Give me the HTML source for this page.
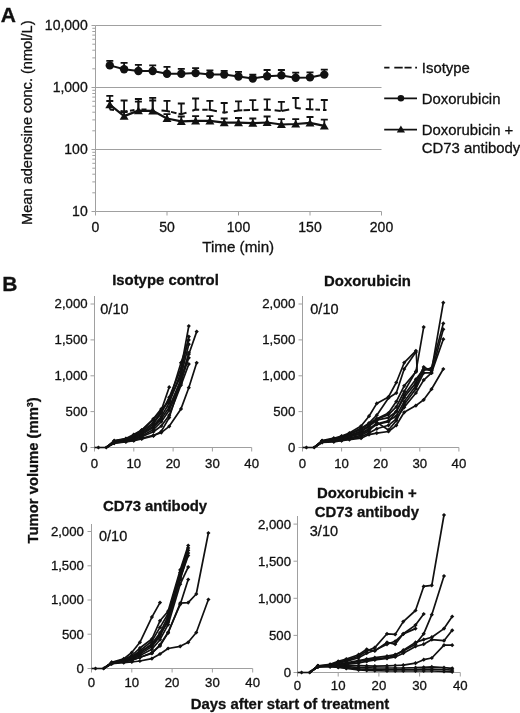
<!DOCTYPE html><html><head><meta charset="utf-8"><title>Figure</title><style>html,body{margin:0;padding:0;background:#fff}svg{display:block}text{font-family:"Liberation Sans", Arial, sans-serif;fill:#111;stroke:#111;stroke-width:0.3px}</style></head><body>
<svg width="520" height="713" viewBox="0 0 520 713">
<rect width="520" height="713" fill="#fff"/>
<text x="0.8" y="21.7" font-size="21" font-weight="bold">A</text>
<line x1="95.5" y1="25.5" x2="381.5" y2="25.5" stroke="#a0a0a0" stroke-width="1"/>
<line x1="95.5" y1="87.5" x2="381.5" y2="87.5" stroke="#a0a0a0" stroke-width="1"/>
<line x1="95.5" y1="149.5" x2="381.5" y2="149.5" stroke="#a0a0a0" stroke-width="1"/>
<line x1="95.5" y1="211.5" x2="381.5" y2="211.5" stroke="#a0a0a0" stroke-width="1"/>
<line x1="95.5" y1="25.5" x2="95.5" y2="211.5" stroke="#a0a0a0" stroke-width="1"/>
<line x1="92.3" y1="68.8" x2="95.5" y2="68.8" stroke="#a0a0a0" stroke-width="1"/>
<line x1="92.3" y1="57.9" x2="95.5" y2="57.9" stroke="#a0a0a0" stroke-width="1"/>
<line x1="92.3" y1="50.2" x2="95.5" y2="50.2" stroke="#a0a0a0" stroke-width="1"/>
<line x1="92.3" y1="44.2" x2="95.5" y2="44.2" stroke="#a0a0a0" stroke-width="1"/>
<line x1="92.3" y1="39.3" x2="95.5" y2="39.3" stroke="#a0a0a0" stroke-width="1"/>
<line x1="92.3" y1="35.1" x2="95.5" y2="35.1" stroke="#a0a0a0" stroke-width="1"/>
<line x1="92.3" y1="31.5" x2="95.5" y2="31.5" stroke="#a0a0a0" stroke-width="1"/>
<line x1="92.3" y1="28.3" x2="95.5" y2="28.3" stroke="#a0a0a0" stroke-width="1"/>
<line x1="92.3" y1="130.8" x2="95.5" y2="130.8" stroke="#a0a0a0" stroke-width="1"/>
<line x1="92.3" y1="119.9" x2="95.5" y2="119.9" stroke="#a0a0a0" stroke-width="1"/>
<line x1="92.3" y1="112.2" x2="95.5" y2="112.2" stroke="#a0a0a0" stroke-width="1"/>
<line x1="92.3" y1="106.2" x2="95.5" y2="106.2" stroke="#a0a0a0" stroke-width="1"/>
<line x1="92.3" y1="101.3" x2="95.5" y2="101.3" stroke="#a0a0a0" stroke-width="1"/>
<line x1="92.3" y1="97.1" x2="95.5" y2="97.1" stroke="#a0a0a0" stroke-width="1"/>
<line x1="92.3" y1="93.5" x2="95.5" y2="93.5" stroke="#a0a0a0" stroke-width="1"/>
<line x1="92.3" y1="90.3" x2="95.5" y2="90.3" stroke="#a0a0a0" stroke-width="1"/>
<line x1="92.3" y1="192.8" x2="95.5" y2="192.8" stroke="#a0a0a0" stroke-width="1"/>
<line x1="92.3" y1="181.9" x2="95.5" y2="181.9" stroke="#a0a0a0" stroke-width="1"/>
<line x1="92.3" y1="174.2" x2="95.5" y2="174.2" stroke="#a0a0a0" stroke-width="1"/>
<line x1="92.3" y1="168.2" x2="95.5" y2="168.2" stroke="#a0a0a0" stroke-width="1"/>
<line x1="92.3" y1="163.3" x2="95.5" y2="163.3" stroke="#a0a0a0" stroke-width="1"/>
<line x1="92.3" y1="159.1" x2="95.5" y2="159.1" stroke="#a0a0a0" stroke-width="1"/>
<line x1="92.3" y1="155.5" x2="95.5" y2="155.5" stroke="#a0a0a0" stroke-width="1"/>
<line x1="92.3" y1="152.3" x2="95.5" y2="152.3" stroke="#a0a0a0" stroke-width="1"/>
<line x1="91.5" y1="25.5" x2="95.5" y2="25.5" stroke="#a0a0a0" stroke-width="1"/>
<line x1="91.5" y1="87.5" x2="95.5" y2="87.5" stroke="#a0a0a0" stroke-width="1"/>
<line x1="91.5" y1="149.5" x2="95.5" y2="149.5" stroke="#a0a0a0" stroke-width="1"/>
<line x1="91.5" y1="211.5" x2="95.5" y2="211.5" stroke="#a0a0a0" stroke-width="1"/>
<text x="87.7" y="30.1" font-size="14" text-anchor="end">10,000</text>
<text x="87.7" y="92.1" font-size="14" text-anchor="end">1,000</text>
<text x="87.7" y="154.1" font-size="14" text-anchor="end">100</text>
<text x="87.7" y="216.1" font-size="14" text-anchor="end">10</text>
<line x1="95.5" y1="211.5" x2="95.5" y2="215.5" stroke="#a0a0a0" stroke-width="1"/>
<text x="95.5" y="232" font-size="14" text-anchor="middle">0</text>
<line x1="167.0" y1="211.5" x2="167.0" y2="215.5" stroke="#a0a0a0" stroke-width="1"/>
<text x="167.0" y="232" font-size="14" text-anchor="middle">50</text>
<line x1="238.5" y1="211.5" x2="238.5" y2="215.5" stroke="#a0a0a0" stroke-width="1"/>
<text x="238.5" y="232" font-size="14" text-anchor="middle">100</text>
<line x1="310.0" y1="211.5" x2="310.0" y2="215.5" stroke="#a0a0a0" stroke-width="1"/>
<text x="310.0" y="232" font-size="14" text-anchor="middle">150</text>
<line x1="381.5" y1="211.5" x2="381.5" y2="215.5" stroke="#a0a0a0" stroke-width="1"/>
<text x="381.5" y="232" font-size="14" text-anchor="middle">200</text>
<text x="238.2" y="251.7" font-size="15.2" text-anchor="middle">Time (min)</text>
<text transform="translate(31.9,122.7) rotate(-90)" font-size="14.6" text-anchor="middle">Mean adenosine conc. (nmol/L)</text>
<path d="M109.8 109.5L114.0 110.1M120.5 111.0L124.1 111.5L127.5 111.0M130.0 110.7L134.5 110.0M141.5 109.5L146.5 109.5M161.5 110.4L167.0 111.0L170.0 111.7M171.0 111.9L176.5 113.2M178.5 113.7L181.3 114.3L186.5 112.6M192.3 110.7L195.6 109.6L199.2 109.7M202.3 109.7L207.7 109.8M208.5 109.8L209.9 109.8L216.9 111.2M222.3 112.3L224.2 112.7L227.7 112.1M233.8 111.2L238.5 110.4L242.3 110.3M243.5 110.3L250.0 110.1M252.3 110.0L252.8 110.0L258.5 109.8M263.8 109.7L267.1 109.6L270.8 110.0M274.6 110.3L280.8 110.9M281.5 111.0L289.2 109.4M295.2 108.1L295.7 108.0L300.8 108.5M305.7 108.9L310.0 109.3L313.4 109.5M315.4 109.6L320.0 109.8M323.0 109.9L324.3 110.0L326.5 110.0" stroke="#111" stroke-width="2" fill="none"/>
<path d="M109.8 109.5V95.8M106.3 95.8H113.3" stroke="#111" stroke-width="1.8" fill="none"/>
<path d="M124.1 111.5V100.5M120.6 100.5H127.6" stroke="#111" stroke-width="1.8" fill="none"/>
<path d="M138.4 109.5V99.0M134.9 99.0H141.9" stroke="#111" stroke-width="1.8" fill="none"/>
<path d="M152.7 109.5V97.8M149.2 97.8H156.2" stroke="#111" stroke-width="1.8" fill="none"/>
<path d="M167.0 111.0V100.8M163.5 100.8H170.5" stroke="#111" stroke-width="1.8" fill="none"/>
<path d="M181.3 114.3V103.5M177.8 103.5H184.8" stroke="#111" stroke-width="1.8" fill="none"/>
<path d="M195.6 109.6V98.5M192.1 98.5H199.1" stroke="#111" stroke-width="1.8" fill="none"/>
<path d="M209.9 109.8V100.8M206.4 100.8H213.4" stroke="#111" stroke-width="1.8" fill="none"/>
<path d="M224.2 112.7V103.0M220.7 103.0H227.7" stroke="#111" stroke-width="1.8" fill="none"/>
<path d="M238.5 110.4V101.3M235.0 101.3H242.0" stroke="#111" stroke-width="1.8" fill="none"/>
<path d="M252.8 110.0V100.2M249.3 100.2H256.3" stroke="#111" stroke-width="1.8" fill="none"/>
<path d="M267.1 109.6V99.3M263.6 99.3H270.6" stroke="#111" stroke-width="1.8" fill="none"/>
<path d="M281.4 111.0V101.8M277.9 101.8H284.9" stroke="#111" stroke-width="1.8" fill="none"/>
<path d="M295.7 108.0V98.0M292.2 98.0H299.2" stroke="#111" stroke-width="1.8" fill="none"/>
<path d="M310.0 109.3V99.3M306.5 99.3H313.5" stroke="#111" stroke-width="1.8" fill="none"/>
<path d="M324.3 110.0V100.0M320.8 100.0H327.8" stroke="#111" stroke-width="1.8" fill="none"/>
<polyline points="109.8,104.6 124.1,116.1 138.4,110.6 152.7,110.8 167.0,118.5 181.3,121.3 195.6,120.8 209.9,120.8 224.2,122.7 238.5,122.7 252.8,123.1 267.1,122.5 281.4,124.5 295.7,124.0 310.0,122.9 324.3,125.8" fill="none" stroke="#111" stroke-width="2.2" stroke-linejoin="round"/>
<path d="M109.8 104.6V101.0M106.3 101.0H113.3" stroke="#111" stroke-width="1.8" fill="none"/>
<path d="M124.1 116.1V112.0M120.6 112.0H127.6" stroke="#111" stroke-width="1.8" fill="none"/>
<path d="M138.4 110.6V101.7M134.9 101.7H141.9" stroke="#111" stroke-width="1.8" fill="none"/>
<path d="M152.7 110.8V100.5M149.2 100.5H156.2" stroke="#111" stroke-width="1.8" fill="none"/>
<path d="M167.0 118.5V114.2M163.5 114.2H170.5" stroke="#111" stroke-width="1.8" fill="none"/>
<path d="M181.3 121.3V116.5M177.8 116.5H184.8" stroke="#111" stroke-width="1.8" fill="none"/>
<path d="M195.6 120.8V116.2M192.1 116.2H199.1" stroke="#111" stroke-width="1.8" fill="none"/>
<path d="M209.9 120.8V116.2M206.4 116.2H213.4" stroke="#111" stroke-width="1.8" fill="none"/>
<path d="M224.2 122.7V118.5M220.7 118.5H227.7" stroke="#111" stroke-width="1.8" fill="none"/>
<path d="M238.5 122.7V118.0M235.0 118.0H242.0" stroke="#111" stroke-width="1.8" fill="none"/>
<path d="M252.8 123.1V118.5M249.3 118.5H256.3" stroke="#111" stroke-width="1.8" fill="none"/>
<path d="M267.1 122.5V116.5M263.6 116.5H270.6" stroke="#111" stroke-width="1.8" fill="none"/>
<path d="M281.4 124.5V119.2M277.9 119.2H284.9" stroke="#111" stroke-width="1.8" fill="none"/>
<path d="M295.7 124.0V119.2M292.2 119.2H299.2" stroke="#111" stroke-width="1.8" fill="none"/>
<path d="M310.0 122.9V117.0M306.5 117.0H313.5" stroke="#111" stroke-width="1.8" fill="none"/>
<path d="M324.3 125.8V119.6M320.8 119.6H327.8" stroke="#111" stroke-width="1.8" fill="none"/>
<path d="M109.8 100.7L114.3 108.2H105.3Z" fill="#111"/>
<path d="M124.1 112.2L128.6 119.7H119.6Z" fill="#111"/>
<path d="M138.4 106.7L142.9 114.2H133.9Z" fill="#111"/>
<path d="M152.7 106.9L157.2 114.4H148.2Z" fill="#111"/>
<path d="M167.0 114.6L171.5 122.1H162.5Z" fill="#111"/>
<path d="M181.3 117.4L185.8 124.9H176.8Z" fill="#111"/>
<path d="M195.6 116.9L200.1 124.4H191.1Z" fill="#111"/>
<path d="M209.9 116.9L214.4 124.4H205.4Z" fill="#111"/>
<path d="M224.2 118.8L228.7 126.3H219.7Z" fill="#111"/>
<path d="M238.5 118.8L243.0 126.3H234.0Z" fill="#111"/>
<path d="M252.8 119.2L257.3 126.7H248.3Z" fill="#111"/>
<path d="M267.1 118.6L271.6 126.1H262.6Z" fill="#111"/>
<path d="M281.4 120.6L285.9 128.1H276.9Z" fill="#111"/>
<path d="M295.7 120.1L300.2 127.6H291.2Z" fill="#111"/>
<path d="M310.0 119.0L314.5 126.5H305.5Z" fill="#111"/>
<path d="M324.3 121.9L328.8 129.4H319.8Z" fill="#111"/>
<polyline points="109.8,65.4 124.1,69.3 138.4,71.0 152.7,71.0 167.0,73.7 181.3,73.8 195.6,73.1 209.9,74.6 224.2,74.6 238.5,76.5 252.8,78.5 267.1,76.2 281.4,75.4 295.7,77.7 310.0,77.4 324.3,74.6" fill="none" stroke="#111" stroke-width="2" stroke-linejoin="round"/>
<path d="M109.8 65.4V60.8M106.3 60.8H113.3" stroke="#111" stroke-width="1.8" fill="none"/>
<path d="M124.1 69.3V62.8M120.6 62.8H127.6" stroke="#111" stroke-width="1.8" fill="none"/>
<path d="M138.4 71.0V64.9M134.9 64.9H141.9" stroke="#111" stroke-width="1.8" fill="none"/>
<path d="M152.7 71.0V65.4M149.2 65.4H156.2" stroke="#111" stroke-width="1.8" fill="none"/>
<path d="M167.0 73.7V66.9M163.5 66.9H170.5" stroke="#111" stroke-width="1.8" fill="none"/>
<path d="M181.3 73.8V68.8M177.8 68.8H184.8" stroke="#111" stroke-width="1.8" fill="none"/>
<path d="M195.6 73.1V68.2M192.1 68.2H199.1" stroke="#111" stroke-width="1.8" fill="none"/>
<path d="M209.9 74.6V70.3M206.4 70.3H213.4" stroke="#111" stroke-width="1.8" fill="none"/>
<path d="M224.2 74.6V70.8M220.7 70.8H227.7" stroke="#111" stroke-width="1.8" fill="none"/>
<path d="M238.5 76.5V71.8M235.0 71.8H242.0" stroke="#111" stroke-width="1.8" fill="none"/>
<path d="M252.8 78.5V74.6M249.3 74.6H256.3" stroke="#111" stroke-width="1.8" fill="none"/>
<path d="M267.1 76.2V70.0M263.6 70.0H270.6" stroke="#111" stroke-width="1.8" fill="none"/>
<path d="M281.4 75.4V70.0M277.9 70.0H284.9" stroke="#111" stroke-width="1.8" fill="none"/>
<path d="M295.7 77.7V72.6M292.2 72.6H299.2" stroke="#111" stroke-width="1.8" fill="none"/>
<path d="M310.0 77.4V72.3M306.5 72.3H313.5" stroke="#111" stroke-width="1.8" fill="none"/>
<path d="M324.3 74.6V69.7M320.8 69.7H327.8" stroke="#111" stroke-width="1.8" fill="none"/>
<circle cx="109.8" cy="65.4" r="4.2" fill="#111"/>
<circle cx="124.1" cy="69.3" r="4.2" fill="#111"/>
<circle cx="138.4" cy="71.0" r="4.2" fill="#111"/>
<circle cx="152.7" cy="71.0" r="4.2" fill="#111"/>
<circle cx="167.0" cy="73.7" r="4.2" fill="#111"/>
<circle cx="181.3" cy="73.8" r="4.2" fill="#111"/>
<circle cx="195.6" cy="73.1" r="4.2" fill="#111"/>
<circle cx="209.9" cy="74.6" r="4.2" fill="#111"/>
<circle cx="224.2" cy="74.6" r="4.2" fill="#111"/>
<circle cx="238.5" cy="76.5" r="4.2" fill="#111"/>
<circle cx="252.8" cy="78.5" r="4.2" fill="#111"/>
<circle cx="267.1" cy="76.2" r="4.2" fill="#111"/>
<circle cx="281.4" cy="75.4" r="4.2" fill="#111"/>
<circle cx="295.7" cy="77.7" r="4.2" fill="#111"/>
<circle cx="310.0" cy="77.4" r="4.2" fill="#111"/>
<circle cx="324.3" cy="74.6" r="4.2" fill="#111"/>
<path d="M384.2 67.6H389.5M394.3 67.6H402.7M404.5 67.6H411.6M415.2 67.6H417" stroke="#111" stroke-width="1.8" fill="none"/>
<text x="421.8" y="73.2" font-size="14.9">Isotype</text>
<line x1="384.2" y1="98.3" x2="417" y2="98.3" stroke="#111" stroke-width="1.7"/>
<circle cx="400.9" cy="98.3" r="3.3" fill="#111"/>
<text x="421.8" y="103.8" font-size="14.9">Doxorubicin</text>
<line x1="384.2" y1="129.7" x2="417" y2="129.7" stroke="#111" stroke-width="1.7"/>
<path d="M400.9 125.4L405 132.6H396.8Z" fill="#111"/>
<text x="421.8" y="134.7" font-size="14.9">Doxorubicin +</text>
<text x="421.8" y="152.7" font-size="14.9">CD73 antibody</text>
<text x="2.2" y="290.9" font-size="21" font-weight="bold">B</text>
<text transform="translate(38.2,470.3) rotate(-90)" font-size="14.8" font-weight="bold" text-anchor="middle">Tumor volume (mm<tspan font-size="9" dy="-5">3</tspan><tspan dy="5">)</tspan></text>
<text x="290" y="709" font-size="14.9" font-weight="bold" text-anchor="middle">Days after start of treatment</text>
<line x1="94.5" y1="296" x2="94.5" y2="447.5" stroke="#a0a0a0" stroke-width="1"/>
<line x1="94.5" y1="447.5" x2="251.70000000000002" y2="447.5" stroke="#a0a0a0" stroke-width="1"/>
<line x1="90.5" y1="447.5" x2="94.5" y2="447.5" stroke="#a0a0a0" stroke-width="1"/>
<text x="87.6" y="451.9" font-size="13.2" text-anchor="end">0</text>
<line x1="90.5" y1="411.6" x2="94.5" y2="411.6" stroke="#a0a0a0" stroke-width="1"/>
<text x="87.6" y="416.0" font-size="13.2" text-anchor="end">500</text>
<line x1="90.5" y1="375.8" x2="94.5" y2="375.8" stroke="#a0a0a0" stroke-width="1"/>
<text x="87.6" y="380.1" font-size="13.2" text-anchor="end">1,000</text>
<line x1="90.5" y1="339.9" x2="94.5" y2="339.9" stroke="#a0a0a0" stroke-width="1"/>
<text x="87.6" y="344.3" font-size="13.2" text-anchor="end">1,500</text>
<line x1="90.5" y1="304.0" x2="94.5" y2="304.0" stroke="#a0a0a0" stroke-width="1"/>
<text x="87.6" y="308.4" font-size="13.2" text-anchor="end">2,000</text>
<line x1="94.5" y1="447.5" x2="94.5" y2="451.5" stroke="#a0a0a0" stroke-width="1"/>
<text x="94.5" y="467.9" font-size="13.2" text-anchor="middle">0</text>
<line x1="133.8" y1="447.5" x2="133.8" y2="451.5" stroke="#a0a0a0" stroke-width="1"/>
<text x="133.8" y="467.9" font-size="13.2" text-anchor="middle">10</text>
<line x1="173.1" y1="447.5" x2="173.1" y2="451.5" stroke="#a0a0a0" stroke-width="1"/>
<text x="173.1" y="467.9" font-size="13.2" text-anchor="middle">20</text>
<line x1="212.4" y1="447.5" x2="212.4" y2="451.5" stroke="#a0a0a0" stroke-width="1"/>
<text x="212.4" y="467.9" font-size="13.2" text-anchor="middle">30</text>
<line x1="251.7" y1="447.5" x2="251.7" y2="451.5" stroke="#a0a0a0" stroke-width="1"/>
<text x="251.7" y="467.9" font-size="13.2" text-anchor="middle">40</text>
<text x="165.5" y="285" font-size="14.9" font-weight="bold" text-anchor="middle">Isotype control</text>
<text x="100.3" y="314" font-size="14.5">0/10</text>
<polyline points="94.5,447.5 106.3,447.5" fill="none" stroke="#111" stroke-width="1.6"/>
<path d="M98.4 445.4L100.5 447.5L98.4 449.6L96.3 447.5Z" fill="#111"/>
<path d="M106.3 445.4L108.4 447.5L106.3 449.6L104.2 447.5Z" fill="#111"/>
<polyline points="106.3,447.5 114.2,441.8 125.9,439.6 133.8,436.7 141.7,433.1 153.4,423.8 161.3,413.1 169.2,397.3 181.0,368.6 188.8,326.0" fill="none" stroke="#111" stroke-width="1.7" stroke-linejoin="round"/>
<path d="M114.2 439.7L116.2 441.8L114.2 443.9L112.1 441.8Z" fill="#111"/>
<path d="M125.9 437.5L128.0 439.6L125.9 441.7L123.8 439.6Z" fill="#111"/>
<path d="M133.8 434.6L135.9 436.7L133.8 438.8L131.7 436.7Z" fill="#111"/>
<path d="M141.7 431.0L143.8 433.1L141.7 435.2L139.6 433.1Z" fill="#111"/>
<path d="M153.4 421.7L155.5 423.8L153.4 425.9L151.3 423.8Z" fill="#111"/>
<path d="M161.3 411.0L163.4 413.1L161.3 415.2L159.2 413.1Z" fill="#111"/>
<path d="M169.2 395.2L171.3 397.3L169.2 399.4L167.1 397.3Z" fill="#111"/>
<path d="M181.0 366.5L183.1 368.6L181.0 370.7L178.9 368.6Z" fill="#111"/>
<path d="M188.8 323.9L190.9 326.0L188.8 328.1L186.7 326.0Z" fill="#111"/>
<polyline points="106.3,447.5 114.2,442.5 125.9,440.3 133.8,438.2 141.7,434.6 153.4,427.4 161.3,418.8 169.2,407.3 181.0,379.3 188.8,354.2 196.7,331.6" fill="none" stroke="#111" stroke-width="1.7" stroke-linejoin="round"/>
<path d="M114.2 440.4L116.2 442.5L114.2 444.6L112.1 442.5Z" fill="#111"/>
<path d="M125.9 438.2L128.0 440.3L125.9 442.4L123.8 440.3Z" fill="#111"/>
<path d="M133.8 436.1L135.9 438.2L133.8 440.3L131.7 438.2Z" fill="#111"/>
<path d="M141.7 432.5L143.8 434.6L141.7 436.7L139.6 434.6Z" fill="#111"/>
<path d="M153.4 425.3L155.5 427.4L153.4 429.5L151.3 427.4Z" fill="#111"/>
<path d="M161.3 416.7L163.4 418.8L161.3 420.9L159.2 418.8Z" fill="#111"/>
<path d="M169.2 405.2L171.3 407.3L169.2 409.4L167.1 407.3Z" fill="#111"/>
<path d="M181.0 377.2L183.1 379.3L181.0 381.4L178.9 379.3Z" fill="#111"/>
<path d="M188.8 352.1L190.9 354.2L188.8 356.3L186.7 354.2Z" fill="#111"/>
<path d="M196.7 329.5L198.8 331.6L196.7 333.7L194.6 331.6Z" fill="#111"/>
<polyline points="106.3,447.5 114.2,443.2 125.9,441.4 133.8,440.3 141.7,438.2 153.4,435.3 161.3,432.6 169.2,426.3 181.0,408.9 188.8,387.7 196.7,362.8" fill="none" stroke="#111" stroke-width="1.7" stroke-linejoin="round"/>
<path d="M114.2 441.1L116.2 443.2L114.2 445.3L112.1 443.2Z" fill="#111"/>
<path d="M125.9 439.3L128.0 441.4L125.9 443.5L123.8 441.4Z" fill="#111"/>
<path d="M133.8 438.2L135.9 440.3L133.8 442.4L131.7 440.3Z" fill="#111"/>
<path d="M141.7 436.1L143.8 438.2L141.7 440.3L139.6 438.2Z" fill="#111"/>
<path d="M153.4 433.2L155.5 435.3L153.4 437.4L151.3 435.3Z" fill="#111"/>
<path d="M161.3 430.5L163.4 432.6L161.3 434.7L159.2 432.6Z" fill="#111"/>
<path d="M169.2 424.2L171.3 426.3L169.2 428.4L167.1 426.3Z" fill="#111"/>
<path d="M181.0 406.8L183.1 408.9L181.0 411.0L178.9 408.9Z" fill="#111"/>
<path d="M188.8 385.6L190.9 387.7L188.8 389.8L186.7 387.7Z" fill="#111"/>
<path d="M196.7 360.7L198.8 362.8L196.7 364.9L194.6 362.8Z" fill="#111"/>
<polyline points="106.3,447.5 114.2,441.0 125.9,438.9 133.8,435.3 141.7,430.3 153.4,419.5 161.3,410.2 169.2,387.2" fill="none" stroke="#111" stroke-width="1.7" stroke-linejoin="round"/>
<path d="M114.2 438.9L116.2 441.0L114.2 443.1L112.1 441.0Z" fill="#111"/>
<path d="M125.9 436.8L128.0 438.9L125.9 441.0L123.8 438.9Z" fill="#111"/>
<path d="M133.8 433.2L135.9 435.3L133.8 437.4L131.7 435.3Z" fill="#111"/>
<path d="M141.7 428.2L143.8 430.3L141.7 432.4L139.6 430.3Z" fill="#111"/>
<path d="M153.4 417.4L155.5 419.5L153.4 421.6L151.3 419.5Z" fill="#111"/>
<path d="M161.3 408.1L163.4 410.2L161.3 412.3L159.2 410.2Z" fill="#111"/>
<path d="M169.2 385.1L171.3 387.2L169.2 389.3L167.1 387.2Z" fill="#111"/>
<polyline points="106.3,447.5 114.2,442.1 125.9,440.0 133.8,437.5 141.7,433.9 153.4,426.0 161.3,416.6 169.2,403.0 181.0,372.2 188.8,336.6" fill="none" stroke="#111" stroke-width="1.7" stroke-linejoin="round"/>
<path d="M114.2 440.0L116.2 442.1L114.2 444.2L112.1 442.1Z" fill="#111"/>
<path d="M125.9 437.9L128.0 440.0L125.9 442.1L123.8 440.0Z" fill="#111"/>
<path d="M133.8 435.4L135.9 437.5L133.8 439.6L131.7 437.5Z" fill="#111"/>
<path d="M141.7 431.8L143.8 433.9L141.7 436.0L139.6 433.9Z" fill="#111"/>
<path d="M153.4 423.9L155.5 426.0L153.4 428.1L151.3 426.0Z" fill="#111"/>
<path d="M161.3 414.5L163.4 416.6L161.3 418.7L159.2 416.6Z" fill="#111"/>
<path d="M169.2 400.9L171.3 403.0L169.2 405.1L167.1 403.0Z" fill="#111"/>
<path d="M181.0 370.1L183.1 372.2L181.0 374.3L178.9 372.2Z" fill="#111"/>
<path d="M188.8 334.5L190.9 336.6L188.8 338.7L186.7 336.6Z" fill="#111"/>
<polyline points="106.3,447.5 114.2,441.4 125.9,439.2 133.8,436.0 141.7,431.7 153.4,422.4 161.3,411.6 169.2,400.1 181.0,375.8 188.8,344.2" fill="none" stroke="#111" stroke-width="1.7" stroke-linejoin="round"/>
<path d="M114.2 439.3L116.2 441.4L114.2 443.5L112.1 441.4Z" fill="#111"/>
<path d="M125.9 437.1L128.0 439.2L125.9 441.3L123.8 439.2Z" fill="#111"/>
<path d="M133.8 433.9L135.9 436.0L133.8 438.1L131.7 436.0Z" fill="#111"/>
<path d="M141.7 429.6L143.8 431.7L141.7 433.8L139.6 431.7Z" fill="#111"/>
<path d="M153.4 420.3L155.5 422.4L153.4 424.5L151.3 422.4Z" fill="#111"/>
<path d="M161.3 409.5L163.4 411.6L161.3 413.7L159.2 411.6Z" fill="#111"/>
<path d="M169.2 398.0L171.3 400.1L169.2 402.2L167.1 400.1Z" fill="#111"/>
<path d="M181.0 373.6L183.1 375.8L181.0 377.9L178.9 375.8Z" fill="#111"/>
<path d="M188.8 342.1L190.9 344.2L188.8 346.3L186.7 344.2Z" fill="#111"/>
<polyline points="106.3,447.5 114.2,442.8 125.9,440.7 133.8,438.9 141.7,436.0 153.4,429.6 161.3,421.7 169.2,410.2 181.0,382.9 188.8,352.8" fill="none" stroke="#111" stroke-width="1.7" stroke-linejoin="round"/>
<path d="M114.2 440.7L116.2 442.8L114.2 444.9L112.1 442.8Z" fill="#111"/>
<path d="M125.9 438.6L128.0 440.7L125.9 442.8L123.8 440.7Z" fill="#111"/>
<path d="M133.8 436.8L135.9 438.9L133.8 441.0L131.7 438.9Z" fill="#111"/>
<path d="M141.7 433.9L143.8 436.0L141.7 438.1L139.6 436.0Z" fill="#111"/>
<path d="M153.4 427.5L155.5 429.6L153.4 431.7L151.3 429.6Z" fill="#111"/>
<path d="M161.3 419.6L163.4 421.7L161.3 423.8L159.2 421.7Z" fill="#111"/>
<path d="M169.2 408.1L171.3 410.2L169.2 412.3L167.1 410.2Z" fill="#111"/>
<path d="M181.0 380.8L183.1 382.9L181.0 385.0L178.9 382.9Z" fill="#111"/>
<path d="M188.8 350.7L190.9 352.8L188.8 354.9L186.7 352.8Z" fill="#111"/>
<polyline points="106.3,447.5 114.2,442.5 125.9,441.0 133.8,439.6 141.7,436.7 153.4,431.7 161.3,426.0 169.2,415.2 181.0,385.1 188.8,364.1" fill="none" stroke="#111" stroke-width="1.7" stroke-linejoin="round"/>
<path d="M114.2 440.4L116.2 442.5L114.2 444.6L112.1 442.5Z" fill="#111"/>
<path d="M125.9 438.9L128.0 441.0L125.9 443.1L123.8 441.0Z" fill="#111"/>
<path d="M133.8 437.5L135.9 439.6L133.8 441.7L131.7 439.6Z" fill="#111"/>
<path d="M141.7 434.6L143.8 436.7L141.7 438.8L139.6 436.7Z" fill="#111"/>
<path d="M153.4 429.6L155.5 431.7L153.4 433.8L151.3 431.7Z" fill="#111"/>
<path d="M161.3 423.9L163.4 426.0L161.3 428.1L159.2 426.0Z" fill="#111"/>
<path d="M169.2 413.1L171.3 415.2L169.2 417.3L167.1 415.2Z" fill="#111"/>
<path d="M181.0 383.0L183.1 385.1L181.0 387.2L178.9 385.1Z" fill="#111"/>
<path d="M188.8 362.0L190.9 364.1L188.8 366.2L186.7 364.1Z" fill="#111"/>
<polyline points="106.3,447.5 114.2,440.7 125.9,438.5 133.8,434.6 141.7,430.1 153.4,418.8 161.3,408.9 169.2,401.6 181.0,362.8 188.8,339.9" fill="none" stroke="#111" stroke-width="1.7" stroke-linejoin="round"/>
<path d="M114.2 438.6L116.2 440.7L114.2 442.8L112.1 440.7Z" fill="#111"/>
<path d="M125.9 436.4L128.0 438.5L125.9 440.6L123.8 438.5Z" fill="#111"/>
<path d="M133.8 432.5L135.9 434.6L133.8 436.7L131.7 434.6Z" fill="#111"/>
<path d="M141.7 428.0L143.8 430.1L141.7 432.2L139.6 430.1Z" fill="#111"/>
<path d="M153.4 416.7L155.5 418.8L153.4 420.9L151.3 418.8Z" fill="#111"/>
<path d="M161.3 406.8L163.4 408.9L161.3 411.0L159.2 408.9Z" fill="#111"/>
<path d="M169.2 399.5L171.3 401.6L169.2 403.7L167.1 401.6Z" fill="#111"/>
<path d="M181.0 360.7L183.1 362.8L181.0 364.9L178.9 362.8Z" fill="#111"/>
<path d="M188.8 337.8L190.9 339.9L188.8 342.0L186.7 339.9Z" fill="#111"/>
<polyline points="106.3,447.5 114.2,443.2 125.9,441.8 133.8,440.7 141.7,438.9 153.4,436.0 161.3,431.4 169.2,417.6 181.0,380.8 188.8,357.8" fill="none" stroke="#111" stroke-width="1.7" stroke-linejoin="round"/>
<path d="M114.2 441.1L116.2 443.2L114.2 445.3L112.1 443.2Z" fill="#111"/>
<path d="M125.9 439.7L128.0 441.8L125.9 443.9L123.8 441.8Z" fill="#111"/>
<path d="M133.8 438.6L135.9 440.7L133.8 442.8L131.7 440.7Z" fill="#111"/>
<path d="M141.7 436.8L143.8 438.9L141.7 441.0L139.6 438.9Z" fill="#111"/>
<path d="M153.4 433.9L155.5 436.0L153.4 438.1L151.3 436.0Z" fill="#111"/>
<path d="M161.3 429.3L163.4 431.4L161.3 433.5L159.2 431.4Z" fill="#111"/>
<path d="M169.2 415.5L171.3 417.6L169.2 419.7L167.1 417.6Z" fill="#111"/>
<path d="M181.0 378.7L183.1 380.8L181.0 382.9L178.9 380.8Z" fill="#111"/>
<path d="M188.8 355.7L190.9 357.8L188.8 359.9L186.7 357.8Z" fill="#111"/>
<line x1="302.5" y1="296" x2="302.5" y2="447.5" stroke="#a0a0a0" stroke-width="1"/>
<line x1="302.5" y1="447.5" x2="458.9" y2="447.5" stroke="#a0a0a0" stroke-width="1"/>
<line x1="298.5" y1="447.5" x2="302.5" y2="447.5" stroke="#a0a0a0" stroke-width="1"/>
<text x="295.3" y="451.9" font-size="13.2" text-anchor="end">0</text>
<line x1="298.5" y1="411.6" x2="302.5" y2="411.6" stroke="#a0a0a0" stroke-width="1"/>
<text x="295.3" y="416.0" font-size="13.2" text-anchor="end">500</text>
<line x1="298.5" y1="375.8" x2="302.5" y2="375.8" stroke="#a0a0a0" stroke-width="1"/>
<text x="295.3" y="380.1" font-size="13.2" text-anchor="end">1,000</text>
<line x1="298.5" y1="339.9" x2="302.5" y2="339.9" stroke="#a0a0a0" stroke-width="1"/>
<text x="295.3" y="344.3" font-size="13.2" text-anchor="end">1,500</text>
<line x1="298.5" y1="304.0" x2="302.5" y2="304.0" stroke="#a0a0a0" stroke-width="1"/>
<text x="295.3" y="308.4" font-size="13.2" text-anchor="end">2,000</text>
<line x1="302.5" y1="447.5" x2="302.5" y2="451.5" stroke="#a0a0a0" stroke-width="1"/>
<text x="302.5" y="467.9" font-size="13.2" text-anchor="middle">0</text>
<line x1="341.6" y1="447.5" x2="341.6" y2="451.5" stroke="#a0a0a0" stroke-width="1"/>
<text x="341.6" y="467.9" font-size="13.2" text-anchor="middle">10</text>
<line x1="380.7" y1="447.5" x2="380.7" y2="451.5" stroke="#a0a0a0" stroke-width="1"/>
<text x="380.7" y="467.9" font-size="13.2" text-anchor="middle">20</text>
<line x1="419.8" y1="447.5" x2="419.8" y2="451.5" stroke="#a0a0a0" stroke-width="1"/>
<text x="419.8" y="467.9" font-size="13.2" text-anchor="middle">30</text>
<line x1="458.9" y1="447.5" x2="458.9" y2="451.5" stroke="#a0a0a0" stroke-width="1"/>
<text x="458.9" y="467.9" font-size="13.2" text-anchor="middle">40</text>
<text x="367.5" y="286" font-size="14.9" font-weight="bold" text-anchor="middle">Doxorubicin</text>
<text x="310.3" y="314" font-size="14.5">0/10</text>
<polyline points="302.5,447.5 314.2,447.5" fill="none" stroke="#111" stroke-width="1.6"/>
<path d="M306.4 445.4L308.5 447.5L306.4 449.6L304.3 447.5Z" fill="#111"/>
<path d="M314.2 445.4L316.3 447.5L314.2 449.6L312.1 447.5Z" fill="#111"/>
<polyline points="314.2,447.5 322.1,440.7 333.8,438.2 341.6,436.0 349.4,433.1 361.1,426.0 369.0,416.2 376.8,403.4 388.5,396.9 396.3,382.5 404.2,362.7 415.9,350.8" fill="none" stroke="#111" stroke-width="1.7" stroke-linejoin="round"/>
<path d="M322.1 438.6L324.2 440.7L322.1 442.8L319.9 440.7Z" fill="#111"/>
<path d="M333.8 436.1L335.9 438.2L333.8 440.3L331.7 438.2Z" fill="#111"/>
<path d="M341.6 433.9L343.7 436.0L341.6 438.1L339.5 436.0Z" fill="#111"/>
<path d="M349.4 431.0L351.5 433.1L349.4 435.2L347.3 433.1Z" fill="#111"/>
<path d="M361.1 423.9L363.2 426.0L361.1 428.1L359.0 426.0Z" fill="#111"/>
<path d="M369.0 414.1L371.1 416.2L369.0 418.3L366.9 416.2Z" fill="#111"/>
<path d="M376.8 401.3L378.9 403.4L376.8 405.5L374.7 403.4Z" fill="#111"/>
<path d="M388.5 394.8L390.6 396.9L388.5 399.0L386.4 396.9Z" fill="#111"/>
<path d="M396.3 380.4L398.4 382.5L396.3 384.6L394.2 382.5Z" fill="#111"/>
<path d="M404.2 360.6L406.3 362.7L404.2 364.8L402.1 362.7Z" fill="#111"/>
<path d="M415.9 348.7L418.0 350.8L415.9 352.9L413.8 350.8Z" fill="#111"/>
<polyline points="314.2,447.5 322.1,441.4 333.8,439.2 341.6,437.1 349.4,434.2 361.1,428.1 369.0,423.1 376.8,415.2 388.5,398.0 396.3,393.0 404.2,369.1 415.9,352.1" fill="none" stroke="#111" stroke-width="1.7" stroke-linejoin="round"/>
<path d="M322.1 439.3L324.2 441.4L322.1 443.5L319.9 441.4Z" fill="#111"/>
<path d="M333.8 437.1L335.9 439.2L333.8 441.3L331.7 439.2Z" fill="#111"/>
<path d="M341.6 435.0L343.7 437.1L341.6 439.2L339.5 437.1Z" fill="#111"/>
<path d="M349.4 432.1L351.5 434.2L349.4 436.3L347.3 434.2Z" fill="#111"/>
<path d="M361.1 426.0L363.2 428.1L361.1 430.2L359.0 428.1Z" fill="#111"/>
<path d="M369.0 421.0L371.1 423.1L369.0 425.2L366.9 423.1Z" fill="#111"/>
<path d="M376.8 413.1L378.9 415.2L376.8 417.3L374.7 415.2Z" fill="#111"/>
<path d="M388.5 395.9L390.6 398.0L388.5 400.1L386.4 398.0Z" fill="#111"/>
<path d="M396.3 390.9L398.4 393.0L396.3 395.1L394.2 393.0Z" fill="#111"/>
<path d="M404.2 367.0L406.3 369.1L404.2 371.2L402.1 369.1Z" fill="#111"/>
<path d="M415.9 350.0L418.0 352.1L415.9 354.2L413.8 352.1Z" fill="#111"/>
<polyline points="314.2,447.5 322.1,441.0 333.8,438.9 341.6,436.7 349.4,433.9 361.1,429.6 369.0,423.8 376.8,418.8 388.5,413.1 396.3,401.6 404.2,385.8 415.9,371.9 423.7,327.1" fill="none" stroke="#111" stroke-width="1.7" stroke-linejoin="round"/>
<path d="M322.1 438.9L324.2 441.0L322.1 443.1L319.9 441.0Z" fill="#111"/>
<path d="M333.8 436.8L335.9 438.9L333.8 441.0L331.7 438.9Z" fill="#111"/>
<path d="M341.6 434.6L343.7 436.7L341.6 438.8L339.5 436.7Z" fill="#111"/>
<path d="M349.4 431.8L351.5 433.9L349.4 436.0L347.3 433.9Z" fill="#111"/>
<path d="M361.1 427.5L363.2 429.6L361.1 431.7L359.0 429.6Z" fill="#111"/>
<path d="M369.0 421.7L371.1 423.8L369.0 425.9L366.9 423.8Z" fill="#111"/>
<path d="M376.8 416.7L378.9 418.8L376.8 420.9L374.7 418.8Z" fill="#111"/>
<path d="M388.5 411.0L390.6 413.1L388.5 415.2L386.4 413.1Z" fill="#111"/>
<path d="M396.3 399.5L398.4 401.6L396.3 403.7L394.2 401.6Z" fill="#111"/>
<path d="M404.2 383.7L406.3 385.8L404.2 387.9L402.1 385.8Z" fill="#111"/>
<path d="M415.9 369.8L418.0 371.9L415.9 374.0L413.8 371.9Z" fill="#111"/>
<path d="M423.7 325.0L425.8 327.1L423.7 329.2L421.6 327.1Z" fill="#111"/>
<polyline points="314.2,447.5 322.1,441.8 333.8,440.0 341.6,438.2 349.4,436.0 361.1,431.7 369.0,426.0 376.8,419.2 388.5,414.6 396.3,406.9 404.2,391.5 415.9,371.4" fill="none" stroke="#111" stroke-width="1.7" stroke-linejoin="round"/>
<path d="M322.1 439.7L324.2 441.8L322.1 443.9L319.9 441.8Z" fill="#111"/>
<path d="M333.8 437.9L335.9 440.0L333.8 442.1L331.7 440.0Z" fill="#111"/>
<path d="M341.6 436.1L343.7 438.2L341.6 440.3L339.5 438.2Z" fill="#111"/>
<path d="M349.4 433.9L351.5 436.0L349.4 438.1L347.3 436.0Z" fill="#111"/>
<path d="M361.1 429.6L363.2 431.7L361.1 433.8L359.0 431.7Z" fill="#111"/>
<path d="M369.0 423.9L371.1 426.0L369.0 428.1L366.9 426.0Z" fill="#111"/>
<path d="M376.8 417.1L378.9 419.2L376.8 421.3L374.7 419.2Z" fill="#111"/>
<path d="M388.5 412.5L390.6 414.6L388.5 416.7L386.4 414.6Z" fill="#111"/>
<path d="M396.3 404.8L398.4 406.9L396.3 409.0L394.2 406.9Z" fill="#111"/>
<path d="M404.2 389.4L406.3 391.5L404.2 393.6L402.1 391.5Z" fill="#111"/>
<path d="M415.9 369.3L418.0 371.4L415.9 373.5L413.8 371.4Z" fill="#111"/>
<polyline points="314.2,447.5 322.1,441.0 333.8,439.6 341.6,437.5 349.4,435.3 361.1,431.0 369.0,426.0 376.8,420.2 388.5,417.7 396.3,411.5 404.2,397.3 415.9,382.9 423.7,367.1 431.5,370.9 443.3,302.7" fill="none" stroke="#111" stroke-width="1.7" stroke-linejoin="round"/>
<path d="M322.1 438.9L324.2 441.0L322.1 443.1L319.9 441.0Z" fill="#111"/>
<path d="M333.8 437.5L335.9 439.6L333.8 441.7L331.7 439.6Z" fill="#111"/>
<path d="M341.6 435.4L343.7 437.5L341.6 439.6L339.5 437.5Z" fill="#111"/>
<path d="M349.4 433.2L351.5 435.3L349.4 437.4L347.3 435.3Z" fill="#111"/>
<path d="M361.1 428.9L363.2 431.0L361.1 433.1L359.0 431.0Z" fill="#111"/>
<path d="M369.0 423.9L371.1 426.0L369.0 428.1L366.9 426.0Z" fill="#111"/>
<path d="M376.8 418.1L378.9 420.2L376.8 422.3L374.7 420.2Z" fill="#111"/>
<path d="M388.5 415.6L390.6 417.7L388.5 419.8L386.4 417.7Z" fill="#111"/>
<path d="M396.3 409.4L398.4 411.5L396.3 413.6L394.2 411.5Z" fill="#111"/>
<path d="M404.2 395.2L406.3 397.3L404.2 399.4L402.1 397.3Z" fill="#111"/>
<path d="M415.9 380.8L418.0 382.9L415.9 385.0L413.8 382.9Z" fill="#111"/>
<path d="M423.7 365.0L425.8 367.1L423.7 369.2L421.6 367.1Z" fill="#111"/>
<path d="M431.5 368.8L433.6 370.9L431.5 373.0L429.4 370.9Z" fill="#111"/>
<path d="M443.3 300.6L445.4 302.7L443.3 304.8L441.2 302.7Z" fill="#111"/>
<polyline points="314.2,447.5 322.1,441.8 333.8,440.3 341.6,438.9 349.4,436.7 361.1,433.1 369.0,428.8 376.8,423.8 388.5,420.7 396.3,416.1 404.2,401.6 415.9,385.8 423.7,370.0 431.5,368.1 443.3,323.4" fill="none" stroke="#111" stroke-width="1.7" stroke-linejoin="round"/>
<path d="M322.1 439.7L324.2 441.8L322.1 443.9L319.9 441.8Z" fill="#111"/>
<path d="M333.8 438.2L335.9 440.3L333.8 442.4L331.7 440.3Z" fill="#111"/>
<path d="M341.6 436.8L343.7 438.9L341.6 441.0L339.5 438.9Z" fill="#111"/>
<path d="M349.4 434.6L351.5 436.7L349.4 438.8L347.3 436.7Z" fill="#111"/>
<path d="M361.1 431.0L363.2 433.1L361.1 435.2L359.0 433.1Z" fill="#111"/>
<path d="M369.0 426.7L371.1 428.8L369.0 430.9L366.9 428.8Z" fill="#111"/>
<path d="M376.8 421.7L378.9 423.8L376.8 425.9L374.7 423.8Z" fill="#111"/>
<path d="M388.5 418.6L390.6 420.7L388.5 422.8L386.4 420.7Z" fill="#111"/>
<path d="M396.3 414.0L398.4 416.1L396.3 418.2L394.2 416.1Z" fill="#111"/>
<path d="M404.2 399.5L406.3 401.6L404.2 403.7L402.1 401.6Z" fill="#111"/>
<path d="M415.9 383.7L418.0 385.8L415.9 387.9L413.8 385.8Z" fill="#111"/>
<path d="M423.7 367.9L425.8 370.0L423.7 372.1L421.6 370.0Z" fill="#111"/>
<path d="M431.5 366.0L433.6 368.1L431.5 370.2L429.4 368.1Z" fill="#111"/>
<path d="M443.3 321.3L445.4 323.4L443.3 325.5L441.2 323.4Z" fill="#111"/>
<polyline points="314.2,447.5 322.1,441.4 333.8,440.7 341.6,439.6 349.4,438.2 361.1,435.3 369.0,431.0 376.8,422.4 388.5,430.0 396.3,420.7 404.2,404.4 415.9,388.7 423.7,372.9 431.5,372.9 443.3,329.3" fill="none" stroke="#111" stroke-width="1.7" stroke-linejoin="round"/>
<path d="M322.1 439.3L324.2 441.4L322.1 443.5L319.9 441.4Z" fill="#111"/>
<path d="M333.8 438.6L335.9 440.7L333.8 442.8L331.7 440.7Z" fill="#111"/>
<path d="M341.6 437.5L343.7 439.6L341.6 441.7L339.5 439.6Z" fill="#111"/>
<path d="M349.4 436.1L351.5 438.2L349.4 440.3L347.3 438.2Z" fill="#111"/>
<path d="M361.1 433.2L363.2 435.3L361.1 437.4L359.0 435.3Z" fill="#111"/>
<path d="M369.0 428.9L371.1 431.0L369.0 433.1L366.9 431.0Z" fill="#111"/>
<path d="M376.8 420.3L378.9 422.4L376.8 424.5L374.7 422.4Z" fill="#111"/>
<path d="M388.5 427.9L390.6 430.0L388.5 432.1L386.4 430.0Z" fill="#111"/>
<path d="M396.3 418.6L398.4 420.7L396.3 422.8L394.2 420.7Z" fill="#111"/>
<path d="M404.2 402.3L406.3 404.4L404.2 406.6L402.1 404.4Z" fill="#111"/>
<path d="M415.9 386.6L418.0 388.7L415.9 390.8L413.8 388.7Z" fill="#111"/>
<path d="M423.7 370.8L425.8 372.9L423.7 375.0L421.6 372.9Z" fill="#111"/>
<path d="M431.5 370.8L433.6 372.9L431.5 375.0L429.4 372.9Z" fill="#111"/>
<path d="M443.3 327.2L445.4 329.3L443.3 331.4L441.2 329.3Z" fill="#111"/>
<polyline points="314.2,447.5 322.1,442.1 333.8,441.0 341.6,440.3 349.4,438.9 361.1,436.7 369.0,433.1 376.8,428.8 388.5,425.3 396.3,418.8 404.2,407.3 415.9,393.0 423.7,380.1 431.5,372.9 443.3,339.2" fill="none" stroke="#111" stroke-width="1.7" stroke-linejoin="round"/>
<path d="M322.1 440.0L324.2 442.1L322.1 444.2L319.9 442.1Z" fill="#111"/>
<path d="M333.8 438.9L335.9 441.0L333.8 443.1L331.7 441.0Z" fill="#111"/>
<path d="M341.6 438.2L343.7 440.3L341.6 442.4L339.5 440.3Z" fill="#111"/>
<path d="M349.4 436.8L351.5 438.9L349.4 441.0L347.3 438.9Z" fill="#111"/>
<path d="M361.1 434.6L363.2 436.7L361.1 438.8L359.0 436.7Z" fill="#111"/>
<path d="M369.0 431.0L371.1 433.1L369.0 435.2L366.9 433.1Z" fill="#111"/>
<path d="M376.8 426.7L378.9 428.8L376.8 430.9L374.7 428.8Z" fill="#111"/>
<path d="M388.5 423.2L390.6 425.3L388.5 427.4L386.4 425.3Z" fill="#111"/>
<path d="M396.3 416.7L398.4 418.8L396.3 420.9L394.2 418.8Z" fill="#111"/>
<path d="M404.2 405.2L406.3 407.3L404.2 409.4L402.1 407.3Z" fill="#111"/>
<path d="M415.9 390.9L418.0 393.0L415.9 395.1L413.8 393.0Z" fill="#111"/>
<path d="M423.7 378.0L425.8 380.1L423.7 382.2L421.6 380.1Z" fill="#111"/>
<path d="M431.5 370.8L433.6 372.9L431.5 375.0L429.4 372.9Z" fill="#111"/>
<path d="M443.3 337.1L445.4 339.2L443.3 341.3L441.2 339.2Z" fill="#111"/>
<polyline points="314.2,447.5 322.1,442.5 333.8,441.8 341.6,440.7 349.4,439.6 361.1,438.2 369.0,434.6 376.8,433.1 388.5,431.5 396.3,425.3 404.2,412.3 415.9,405.6 423.7,399.8 431.5,389.2 443.3,369.0" fill="none" stroke="#111" stroke-width="1.7" stroke-linejoin="round"/>
<path d="M322.1 440.4L324.2 442.5L322.1 444.6L319.9 442.5Z" fill="#111"/>
<path d="M333.8 439.7L335.9 441.8L333.8 443.9L331.7 441.8Z" fill="#111"/>
<path d="M341.6 438.6L343.7 440.7L341.6 442.8L339.5 440.7Z" fill="#111"/>
<path d="M349.4 437.5L351.5 439.6L349.4 441.7L347.3 439.6Z" fill="#111"/>
<path d="M361.1 436.1L363.2 438.2L361.1 440.3L359.0 438.2Z" fill="#111"/>
<path d="M369.0 432.5L371.1 434.6L369.0 436.7L366.9 434.6Z" fill="#111"/>
<path d="M376.8 431.0L378.9 433.1L376.8 435.2L374.7 433.1Z" fill="#111"/>
<path d="M388.5 429.4L390.6 431.5L388.5 433.6L386.4 431.5Z" fill="#111"/>
<path d="M396.3 423.2L398.4 425.3L396.3 427.4L394.2 425.3Z" fill="#111"/>
<path d="M404.2 410.2L406.3 412.3L404.2 414.4L402.1 412.3Z" fill="#111"/>
<path d="M415.9 403.5L418.0 405.6L415.9 407.7L413.8 405.6Z" fill="#111"/>
<path d="M423.7 397.7L425.8 399.8L423.7 401.9L421.6 399.8Z" fill="#111"/>
<path d="M431.5 387.1L433.6 389.2L431.5 391.3L429.4 389.2Z" fill="#111"/>
<path d="M443.3 366.9L445.4 369.0L443.3 371.1L441.2 369.0Z" fill="#111"/>
<polyline points="314.2,447.5 322.1,442.1 333.8,440.3 341.6,438.5 349.4,436.7 361.1,433.9 369.0,429.6 376.8,424.5 388.5,421.7 396.3,411.6 404.2,395.0 415.9,379.3 423.7,369.3 431.5,370.4" fill="none" stroke="#111" stroke-width="1.7" stroke-linejoin="round"/>
<path d="M322.1 440.0L324.2 442.1L322.1 444.2L319.9 442.1Z" fill="#111"/>
<path d="M333.8 438.2L335.9 440.3L333.8 442.4L331.7 440.3Z" fill="#111"/>
<path d="M341.6 436.4L343.7 438.5L341.6 440.6L339.5 438.5Z" fill="#111"/>
<path d="M349.4 434.6L351.5 436.7L349.4 438.8L347.3 436.7Z" fill="#111"/>
<path d="M361.1 431.8L363.2 433.9L361.1 436.0L359.0 433.9Z" fill="#111"/>
<path d="M369.0 427.5L371.1 429.6L369.0 431.7L366.9 429.6Z" fill="#111"/>
<path d="M376.8 422.4L378.9 424.5L376.8 426.6L374.7 424.5Z" fill="#111"/>
<path d="M388.5 419.6L390.6 421.7L388.5 423.8L386.4 421.7Z" fill="#111"/>
<path d="M396.3 409.5L398.4 411.6L396.3 413.7L394.2 411.6Z" fill="#111"/>
<path d="M404.2 392.9L406.3 395.0L404.2 397.1L402.1 395.0Z" fill="#111"/>
<path d="M415.9 377.2L418.0 379.3L415.9 381.4L413.8 379.3Z" fill="#111"/>
<path d="M423.7 367.2L425.8 369.3L423.7 371.4L421.6 369.3Z" fill="#111"/>
<path d="M431.5 368.3L433.6 370.4L431.5 372.5L429.4 370.4Z" fill="#111"/>
<path d="M416.2 352L417.2 371.5" stroke="#111" stroke-width="1.6" fill="none"/>
<line x1="91.5" y1="524" x2="91.5" y2="668.5" stroke="#a0a0a0" stroke-width="1"/>
<line x1="91.5" y1="668.5" x2="252.70000000000002" y2="668.5" stroke="#a0a0a0" stroke-width="1"/>
<line x1="87.5" y1="668.5" x2="91.5" y2="668.5" stroke="#a0a0a0" stroke-width="1"/>
<text x="83.9" y="672.9" font-size="13.2" text-anchor="end">0</text>
<line x1="87.5" y1="634.2" x2="91.5" y2="634.2" stroke="#a0a0a0" stroke-width="1"/>
<text x="83.9" y="638.6" font-size="13.2" text-anchor="end">500</text>
<line x1="87.5" y1="600.0" x2="91.5" y2="600.0" stroke="#a0a0a0" stroke-width="1"/>
<text x="83.9" y="604.4" font-size="13.2" text-anchor="end">1,000</text>
<line x1="87.5" y1="565.8" x2="91.5" y2="565.8" stroke="#a0a0a0" stroke-width="1"/>
<text x="83.9" y="570.1" font-size="13.2" text-anchor="end">1,500</text>
<line x1="87.5" y1="531.5" x2="91.5" y2="531.5" stroke="#a0a0a0" stroke-width="1"/>
<text x="83.9" y="535.9" font-size="13.2" text-anchor="end">2,000</text>
<line x1="91.5" y1="668.5" x2="91.5" y2="672.5" stroke="#a0a0a0" stroke-width="1"/>
<text x="91.5" y="686.6" font-size="13.2" text-anchor="middle">0</text>
<line x1="131.8" y1="668.5" x2="131.8" y2="672.5" stroke="#a0a0a0" stroke-width="1"/>
<text x="131.8" y="686.6" font-size="13.2" text-anchor="middle">10</text>
<line x1="172.1" y1="668.5" x2="172.1" y2="672.5" stroke="#a0a0a0" stroke-width="1"/>
<text x="172.1" y="686.6" font-size="13.2" text-anchor="middle">20</text>
<line x1="212.4" y1="668.5" x2="212.4" y2="672.5" stroke="#a0a0a0" stroke-width="1"/>
<text x="212.4" y="686.6" font-size="13.2" text-anchor="middle">30</text>
<line x1="252.7" y1="668.5" x2="252.7" y2="672.5" stroke="#a0a0a0" stroke-width="1"/>
<text x="252.7" y="686.6" font-size="13.2" text-anchor="middle">40</text>
<text x="155" y="511" font-size="14.9" font-weight="bold" text-anchor="middle">CD73 antibody</text>
<text x="99" y="540.6" font-size="14.5">0/10</text>
<polyline points="91.5,668.5 103.6,668.5" fill="none" stroke="#111" stroke-width="1.6"/>
<path d="M95.5 666.4L97.6 668.5L95.5 670.6L93.4 668.5Z" fill="#111"/>
<path d="M103.6 666.4L105.7 668.5L103.6 670.6L101.5 668.5Z" fill="#111"/>
<polyline points="103.6,668.5 111.7,663.0 123.7,661.6 131.8,660.3 139.9,657.5 151.9,652.7 160.0,645.9 168.1,632.9 180.2,603.2 188.2,602.6 196.3,594.0 208.4,533.0" fill="none" stroke="#111" stroke-width="1.7" stroke-linejoin="round"/>
<path d="M111.7 660.9L113.8 663.0L111.7 665.1L109.6 663.0Z" fill="#111"/>
<path d="M123.7 659.5L125.8 661.6L123.7 663.8L121.6 661.6Z" fill="#111"/>
<path d="M131.8 658.2L133.9 660.3L131.8 662.4L129.7 660.3Z" fill="#111"/>
<path d="M139.9 655.4L142.0 657.5L139.9 659.6L137.8 657.5Z" fill="#111"/>
<path d="M151.9 650.6L154.0 652.7L151.9 654.8L149.8 652.7Z" fill="#111"/>
<path d="M160.0 643.8L162.1 645.9L160.0 648.0L157.9 645.9Z" fill="#111"/>
<path d="M168.1 630.8L170.2 632.9L168.1 635.0L166.0 632.9Z" fill="#111"/>
<path d="M180.2 601.1L182.3 603.2L180.2 605.3L178.1 603.2Z" fill="#111"/>
<path d="M188.2 600.5L190.3 602.6L188.2 604.7L186.1 602.6Z" fill="#111"/>
<path d="M196.3 591.9L198.4 594.0L196.3 596.1L194.2 594.0Z" fill="#111"/>
<path d="M208.4 530.9L210.5 533.0L208.4 535.1L206.3 533.0Z" fill="#111"/>
<polyline points="103.6,668.5 111.7,663.7 123.7,662.7 131.8,662.0 139.9,661.0 151.9,658.6 160.0,654.0 168.1,648.5 180.2,646.3 188.2,642.3 196.3,632.5 208.4,599.5" fill="none" stroke="#111" stroke-width="1.7" stroke-linejoin="round"/>
<path d="M111.7 661.6L113.8 663.7L111.7 665.8L109.6 663.7Z" fill="#111"/>
<path d="M123.7 660.6L125.8 662.7L123.7 664.8L121.6 662.7Z" fill="#111"/>
<path d="M131.8 659.9L133.9 662.0L131.8 664.1L129.7 662.0Z" fill="#111"/>
<path d="M139.9 658.9L142.0 661.0L139.9 663.1L137.8 661.0Z" fill="#111"/>
<path d="M151.9 656.5L154.0 658.6L151.9 660.7L149.8 658.6Z" fill="#111"/>
<path d="M160.0 651.9L162.1 654.0L160.0 656.1L157.9 654.0Z" fill="#111"/>
<path d="M168.1 646.4L170.2 648.5L168.1 650.6L166.0 648.5Z" fill="#111"/>
<path d="M180.2 644.2L182.3 646.3L180.2 648.4L178.1 646.3Z" fill="#111"/>
<path d="M188.2 640.2L190.3 642.3L188.2 644.4L186.1 642.3Z" fill="#111"/>
<path d="M196.3 630.4L198.4 632.5L196.3 634.6L194.2 632.5Z" fill="#111"/>
<path d="M208.4 597.4L210.5 599.5L208.4 601.6L206.3 599.5Z" fill="#111"/>
<polyline points="103.6,668.5 111.7,662.3 123.7,658.9 131.8,652.5 139.9,642.3 151.9,617.1 160.0,602.6" fill="none" stroke="#111" stroke-width="1.7" stroke-linejoin="round"/>
<path d="M111.7 660.2L113.8 662.3L111.7 664.4L109.6 662.3Z" fill="#111"/>
<path d="M123.7 656.8L125.8 658.9L123.7 661.0L121.6 658.9Z" fill="#111"/>
<path d="M131.8 650.4L133.9 652.5L131.8 654.6L129.7 652.5Z" fill="#111"/>
<path d="M139.9 640.2L142.0 642.3L139.9 644.4L137.8 642.3Z" fill="#111"/>
<path d="M151.9 615.0L154.0 617.1L151.9 619.2L149.8 617.1Z" fill="#111"/>
<path d="M160.0 600.5L162.1 602.6L160.0 604.7L157.9 602.6Z" fill="#111"/>
<polyline points="103.6,668.5 111.7,662.7 123.7,659.6 131.8,655.5 139.9,648.0 151.9,639.0 160.0,620.8 168.1,611.2 180.2,569.9 188.2,545.5" fill="none" stroke="#111" stroke-width="1.7" stroke-linejoin="round"/>
<path d="M111.7 660.6L113.8 662.7L111.7 664.8L109.6 662.7Z" fill="#111"/>
<path d="M123.7 657.5L125.8 659.6L123.7 661.7L121.6 659.6Z" fill="#111"/>
<path d="M131.8 653.4L133.9 655.5L131.8 657.6L129.7 655.5Z" fill="#111"/>
<path d="M139.9 645.9L142.0 648.0L139.9 650.1L137.8 648.0Z" fill="#111"/>
<path d="M151.9 636.9L154.0 639.0L151.9 641.1L149.8 639.0Z" fill="#111"/>
<path d="M160.0 618.7L162.1 620.8L160.0 622.9L157.9 620.8Z" fill="#111"/>
<path d="M168.1 609.1L170.2 611.2L168.1 613.3L166.0 611.2Z" fill="#111"/>
<path d="M180.2 567.8L182.3 569.9L180.2 572.0L178.1 569.9Z" fill="#111"/>
<path d="M188.2 543.4L190.3 545.5L188.2 547.6L186.1 545.5Z" fill="#111"/>
<polyline points="103.6,668.5 111.7,663.0 123.7,660.3 131.8,656.9 139.9,650.7 151.9,641.1 160.0,627.4 168.1,613.7 180.2,572.6 188.2,547.9" fill="none" stroke="#111" stroke-width="1.7" stroke-linejoin="round"/>
<path d="M111.7 660.9L113.8 663.0L111.7 665.1L109.6 663.0Z" fill="#111"/>
<path d="M123.7 658.2L125.8 660.3L123.7 662.4L121.6 660.3Z" fill="#111"/>
<path d="M131.8 654.8L133.9 656.9L131.8 659.0L129.7 656.9Z" fill="#111"/>
<path d="M139.9 648.6L142.0 650.7L139.9 652.8L137.8 650.7Z" fill="#111"/>
<path d="M151.9 639.0L154.0 641.1L151.9 643.2L149.8 641.1Z" fill="#111"/>
<path d="M160.0 625.3L162.1 627.4L160.0 629.5L157.9 627.4Z" fill="#111"/>
<path d="M168.1 611.6L170.2 613.7L168.1 615.8L166.0 613.7Z" fill="#111"/>
<path d="M180.2 570.5L182.3 572.6L180.2 574.7L178.1 572.6Z" fill="#111"/>
<path d="M188.2 545.8L190.3 547.9L188.2 550.0L186.1 547.9Z" fill="#111"/>
<polyline points="103.6,668.5 111.7,663.4 123.7,661.0 131.8,658.2 139.9,652.7 151.9,643.8 160.0,632.9 168.1,616.4 180.2,576.0 188.2,550.3" fill="none" stroke="#111" stroke-width="1.7" stroke-linejoin="round"/>
<path d="M111.7 661.3L113.8 663.4L111.7 665.5L109.6 663.4Z" fill="#111"/>
<path d="M123.7 658.9L125.8 661.0L123.7 663.1L121.6 661.0Z" fill="#111"/>
<path d="M131.8 656.1L133.9 658.2L131.8 660.3L129.7 658.2Z" fill="#111"/>
<path d="M139.9 650.6L142.0 652.7L139.9 654.8L137.8 652.7Z" fill="#111"/>
<path d="M151.9 641.7L154.0 643.8L151.9 645.9L149.8 643.8Z" fill="#111"/>
<path d="M160.0 630.8L162.1 632.9L160.0 635.0L157.9 632.9Z" fill="#111"/>
<path d="M168.1 614.3L170.2 616.4L168.1 618.5L166.0 616.4Z" fill="#111"/>
<path d="M180.2 573.9L182.3 576.0L180.2 578.1L178.1 576.0Z" fill="#111"/>
<path d="M188.2 548.2L190.3 550.3L188.2 552.4L186.1 550.3Z" fill="#111"/>
<polyline points="103.6,668.5 111.7,663.7 123.7,661.6 131.8,658.9 139.9,654.1 151.9,646.6 160.0,636.3 168.1,619.2 180.2,579.5 188.2,553.1" fill="none" stroke="#111" stroke-width="1.7" stroke-linejoin="round"/>
<path d="M111.7 661.6L113.8 663.7L111.7 665.8L109.6 663.7Z" fill="#111"/>
<path d="M123.7 659.5L125.8 661.6L123.7 663.8L121.6 661.6Z" fill="#111"/>
<path d="M131.8 656.8L133.9 658.9L131.8 661.0L129.7 658.9Z" fill="#111"/>
<path d="M139.9 652.0L142.0 654.1L139.9 656.2L137.8 654.1Z" fill="#111"/>
<path d="M151.9 644.5L154.0 646.6L151.9 648.7L149.8 646.6Z" fill="#111"/>
<path d="M160.0 634.2L162.1 636.3L160.0 638.4L157.9 636.3Z" fill="#111"/>
<path d="M168.1 617.1L170.2 619.2L168.1 621.3L166.0 619.2Z" fill="#111"/>
<path d="M180.2 577.4L182.3 579.5L180.2 581.6L178.1 579.5Z" fill="#111"/>
<path d="M188.2 551.0L190.3 553.1L188.2 555.2L186.1 553.1Z" fill="#111"/>
<polyline points="103.6,668.5 111.7,662.7 123.7,661.0 131.8,659.6 139.9,655.5 151.9,649.3 160.0,639.7 168.1,624.7 180.2,584.2 188.2,567.1" fill="none" stroke="#111" stroke-width="1.7" stroke-linejoin="round"/>
<path d="M111.7 660.6L113.8 662.7L111.7 664.8L109.6 662.7Z" fill="#111"/>
<path d="M123.7 658.9L125.8 661.0L123.7 663.1L121.6 661.0Z" fill="#111"/>
<path d="M131.8 657.5L133.9 659.6L131.8 661.7L129.7 659.6Z" fill="#111"/>
<path d="M139.9 653.4L142.0 655.5L139.9 657.6L137.8 655.5Z" fill="#111"/>
<path d="M151.9 647.2L154.0 649.3L151.9 651.4L149.8 649.3Z" fill="#111"/>
<path d="M160.0 637.6L162.1 639.7L160.0 641.8L157.9 639.7Z" fill="#111"/>
<path d="M168.1 622.6L170.2 624.7L168.1 626.8L166.0 624.7Z" fill="#111"/>
<path d="M180.2 582.1L182.3 584.2L180.2 586.3L178.1 584.2Z" fill="#111"/>
<path d="M188.2 565.0L190.3 567.1L188.2 569.2L186.1 567.1Z" fill="#111"/>
<polyline points="103.6,668.5 111.7,663.0 123.7,661.6 131.8,660.3 139.9,657.3 151.9,653.4 160.0,644.8 168.1,632.3 180.2,604.5 188.2,579.5" fill="none" stroke="#111" stroke-width="1.7" stroke-linejoin="round"/>
<path d="M111.7 660.9L113.8 663.0L111.7 665.1L109.6 663.0Z" fill="#111"/>
<path d="M123.7 659.5L125.8 661.6L123.7 663.8L121.6 661.6Z" fill="#111"/>
<path d="M131.8 658.2L133.9 660.3L131.8 662.4L129.7 660.3Z" fill="#111"/>
<path d="M139.9 655.2L142.0 657.3L139.9 659.4L137.8 657.3Z" fill="#111"/>
<path d="M151.9 651.3L154.0 653.4L151.9 655.5L149.8 653.4Z" fill="#111"/>
<path d="M160.0 642.7L162.1 644.8L160.0 646.9L157.9 644.8Z" fill="#111"/>
<path d="M168.1 630.2L170.2 632.3L168.1 634.4L166.0 632.3Z" fill="#111"/>
<path d="M180.2 602.4L182.3 604.5L180.2 606.6L178.1 604.5Z" fill="#111"/>
<path d="M188.2 577.4L190.3 579.5L188.2 581.6L186.1 579.5Z" fill="#111"/>
<polyline points="103.6,668.5 111.7,663.4 123.7,660.6 131.8,657.2 139.9,652.1 151.9,645.2 160.0,634.2 168.1,621.9 180.2,578.1 188.2,555.6" fill="none" stroke="#111" stroke-width="1.7" stroke-linejoin="round"/>
<path d="M111.7 661.3L113.8 663.4L111.7 665.5L109.6 663.4Z" fill="#111"/>
<path d="M123.7 658.5L125.8 660.6L123.7 662.7L121.6 660.6Z" fill="#111"/>
<path d="M131.8 655.1L133.9 657.2L131.8 659.3L129.7 657.2Z" fill="#111"/>
<path d="M139.9 650.0L142.0 652.1L139.9 654.2L137.8 652.1Z" fill="#111"/>
<path d="M151.9 643.1L154.0 645.2L151.9 647.3L149.8 645.2Z" fill="#111"/>
<path d="M160.0 632.1L162.1 634.2L160.0 636.4L157.9 634.2Z" fill="#111"/>
<path d="M168.1 619.8L170.2 621.9L168.1 624.0L166.0 621.9Z" fill="#111"/>
<path d="M180.2 576.0L182.3 578.1L180.2 580.2L178.1 578.1Z" fill="#111"/>
<path d="M188.2 553.5L190.3 555.6L188.2 557.7L186.1 555.6Z" fill="#111"/>
<line x1="297.5" y1="516" x2="297.5" y2="672.5" stroke="#a0a0a0" stroke-width="1"/>
<line x1="297.5" y1="672.5" x2="460.3" y2="672.5" stroke="#a0a0a0" stroke-width="1"/>
<line x1="293.5" y1="672.5" x2="297.5" y2="672.5" stroke="#a0a0a0" stroke-width="1"/>
<text x="291" y="676.9" font-size="13.2" text-anchor="end">0</text>
<line x1="293.5" y1="635.4" x2="297.5" y2="635.4" stroke="#a0a0a0" stroke-width="1"/>
<text x="291" y="639.8" font-size="13.2" text-anchor="end">500</text>
<line x1="293.5" y1="598.3" x2="297.5" y2="598.3" stroke="#a0a0a0" stroke-width="1"/>
<text x="291" y="602.7" font-size="13.2" text-anchor="end">1,000</text>
<line x1="293.5" y1="561.2" x2="297.5" y2="561.2" stroke="#a0a0a0" stroke-width="1"/>
<text x="291" y="565.6" font-size="13.2" text-anchor="end">1,500</text>
<line x1="293.5" y1="524.1" x2="297.5" y2="524.1" stroke="#a0a0a0" stroke-width="1"/>
<text x="291" y="528.5" font-size="13.2" text-anchor="end">2,000</text>
<line x1="297.5" y1="672.5" x2="297.5" y2="676.5" stroke="#a0a0a0" stroke-width="1"/>
<text x="297.5" y="690.2" font-size="13.2" text-anchor="middle">0</text>
<line x1="338.2" y1="672.5" x2="338.2" y2="676.5" stroke="#a0a0a0" stroke-width="1"/>
<text x="338.2" y="690.2" font-size="13.2" text-anchor="middle">10</text>
<line x1="378.9" y1="672.5" x2="378.9" y2="676.5" stroke="#a0a0a0" stroke-width="1"/>
<text x="378.9" y="690.2" font-size="13.2" text-anchor="middle">20</text>
<line x1="419.6" y1="672.5" x2="419.6" y2="676.5" stroke="#a0a0a0" stroke-width="1"/>
<text x="419.6" y="690.2" font-size="13.2" text-anchor="middle">30</text>
<line x1="460.3" y1="672.5" x2="460.3" y2="676.5" stroke="#a0a0a0" stroke-width="1"/>
<text x="460.3" y="690.2" font-size="13.2" text-anchor="middle">40</text>
<text x="366.8" y="497.5" font-size="14.9" font-weight="bold" text-anchor="middle">Doxorubicin +</text>
<text x="366.8" y="516.5" font-size="14.9" font-weight="bold" text-anchor="middle">CD73 antibody</text>
<text x="309.8" y="536" font-size="14.5">3/10</text>
<polyline points="297.5,672.5 309.7,672.5" fill="none" stroke="#111" stroke-width="1.6"/>
<path d="M301.6 670.4L303.7 672.5L301.6 674.6L299.5 672.5Z" fill="#111"/>
<path d="M309.7 670.4L311.8 672.5L309.7 674.6L307.6 672.5Z" fill="#111"/>
<polyline points="309.7,672.5 317.9,666.0 330.1,665.1 338.2,662.1 346.3,660.4 358.6,656.3 366.7,651.0 374.8,647.6 387.0,633.8 395.2,634.4 403.3,621.6 415.5,610.5 423.7,586.4 431.8,585.3 444.0,515.0" fill="none" stroke="#111" stroke-width="1.7" stroke-linejoin="round"/>
<path d="M317.9 663.9L320.0 666.0L317.9 668.1L315.8 666.0Z" fill="#111"/>
<path d="M330.1 663.0L332.2 665.1L330.1 667.2L328.0 665.1Z" fill="#111"/>
<path d="M338.2 660.0L340.3 662.1L338.2 664.2L336.1 662.1Z" fill="#111"/>
<path d="M346.3 658.3L348.4 660.4L346.3 662.5L344.2 660.4Z" fill="#111"/>
<path d="M358.6 654.2L360.7 656.3L358.6 658.4L356.4 656.3Z" fill="#111"/>
<path d="M366.7 648.9L368.8 651.0L366.7 653.1L364.6 651.0Z" fill="#111"/>
<path d="M374.8 645.5L376.9 647.6L374.8 649.7L372.7 647.6Z" fill="#111"/>
<path d="M387.0 631.7L389.1 633.8L387.0 635.9L384.9 633.8Z" fill="#111"/>
<path d="M395.2 632.3L397.3 634.4L395.2 636.5L393.1 634.4Z" fill="#111"/>
<path d="M403.3 619.5L405.4 621.6L403.3 623.7L401.2 621.6Z" fill="#111"/>
<path d="M415.5 608.4L417.6 610.5L415.5 612.6L413.4 610.5Z" fill="#111"/>
<path d="M423.7 584.3L425.8 586.4L423.7 588.5L421.6 586.4Z" fill="#111"/>
<path d="M431.8 583.2L433.9 585.3L431.8 587.4L429.7 585.3Z" fill="#111"/>
<path d="M444.0 512.9L446.1 515.0L444.0 517.1L441.9 515.0Z" fill="#111"/>
<polyline points="309.7,672.5 317.9,666.2 330.1,665.5 338.2,664.3 346.3,662.9 358.6,660.6 366.7,659.1 374.8,657.7 387.0,656.2 395.2,654.5 403.3,651.1 415.5,644.2 423.7,633.8 431.8,614.7 444.0,576.0" fill="none" stroke="#111" stroke-width="1.7" stroke-linejoin="round"/>
<path d="M317.9 664.1L320.0 666.2L317.9 668.3L315.8 666.2Z" fill="#111"/>
<path d="M330.1 663.4L332.2 665.5L330.1 667.6L328.0 665.5Z" fill="#111"/>
<path d="M338.2 662.2L340.3 664.3L338.2 666.4L336.1 664.3Z" fill="#111"/>
<path d="M346.3 660.8L348.4 662.9L346.3 665.0L344.2 662.9Z" fill="#111"/>
<path d="M358.6 658.5L360.7 660.6L358.6 662.7L356.4 660.6Z" fill="#111"/>
<path d="M366.7 657.0L368.8 659.1L366.7 661.2L364.6 659.1Z" fill="#111"/>
<path d="M374.8 655.6L376.9 657.7L374.8 659.8L372.7 657.7Z" fill="#111"/>
<path d="M387.0 654.1L389.1 656.2L387.0 658.3L384.9 656.2Z" fill="#111"/>
<path d="M395.2 652.4L397.3 654.5L395.2 656.6L393.1 654.5Z" fill="#111"/>
<path d="M403.3 649.0L405.4 651.1L403.3 653.2L401.2 651.1Z" fill="#111"/>
<path d="M415.5 642.1L417.6 644.2L415.5 646.3L413.4 644.2Z" fill="#111"/>
<path d="M423.7 631.7L425.8 633.8L423.7 635.9L421.6 633.8Z" fill="#111"/>
<path d="M431.8 612.6L433.9 614.7L431.8 616.8L429.7 614.7Z" fill="#111"/>
<path d="M444.0 573.9L446.1 576.0L444.0 578.1L441.9 576.0Z" fill="#111"/>
<polyline points="309.7,672.5 317.9,665.8 330.1,664.3 338.2,661.4 346.3,659.1 358.6,654.7 366.7,649.3 374.8,651.0 387.0,642.4 395.2,644.2 403.3,633.8 415.5,625.1 423.7,614.0" fill="none" stroke="#111" stroke-width="1.7" stroke-linejoin="round"/>
<path d="M317.9 663.7L320.0 665.8L317.9 667.9L315.8 665.8Z" fill="#111"/>
<path d="M330.1 662.2L332.2 664.3L330.1 666.4L328.0 664.3Z" fill="#111"/>
<path d="M338.2 659.3L340.3 661.4L338.2 663.5L336.1 661.4Z" fill="#111"/>
<path d="M346.3 657.0L348.4 659.1L346.3 661.2L344.2 659.1Z" fill="#111"/>
<path d="M358.6 652.6L360.7 654.7L358.6 656.8L356.4 654.7Z" fill="#111"/>
<path d="M366.7 647.2L368.8 649.3L366.7 651.4L364.6 649.3Z" fill="#111"/>
<path d="M374.8 648.9L376.9 651.0L374.8 653.1L372.7 651.0Z" fill="#111"/>
<path d="M387.0 640.3L389.1 642.4L387.0 644.5L384.9 642.4Z" fill="#111"/>
<path d="M395.2 642.1L397.3 644.2L395.2 646.3L393.1 644.2Z" fill="#111"/>
<path d="M403.3 631.7L405.4 633.8L403.3 635.9L401.2 633.8Z" fill="#111"/>
<path d="M415.5 623.0L417.6 625.1L415.5 627.2L413.4 625.1Z" fill="#111"/>
<path d="M423.7 611.9L425.8 614.0L423.7 616.1L421.6 614.0Z" fill="#111"/>
<polyline points="309.7,672.5 317.9,666.6 330.1,665.1 338.2,663.2 346.3,661.4 358.6,657.7 366.7,653.2 374.8,650.2 387.0,644.3 395.2,641.3 403.3,633.9 415.5,628.6" fill="none" stroke="#111" stroke-width="1.7" stroke-linejoin="round"/>
<path d="M317.9 664.5L320.0 666.6L317.9 668.7L315.8 666.6Z" fill="#111"/>
<path d="M330.1 663.0L332.2 665.1L330.1 667.2L328.0 665.1Z" fill="#111"/>
<path d="M338.2 661.1L340.3 663.2L338.2 665.3L336.1 663.2Z" fill="#111"/>
<path d="M346.3 659.3L348.4 661.4L346.3 663.5L344.2 661.4Z" fill="#111"/>
<path d="M358.6 655.6L360.7 657.7L358.6 659.8L356.4 657.7Z" fill="#111"/>
<path d="M366.7 651.1L368.8 653.2L366.7 655.3L364.6 653.2Z" fill="#111"/>
<path d="M374.8 648.1L376.9 650.2L374.8 652.3L372.7 650.2Z" fill="#111"/>
<path d="M387.0 642.2L389.1 644.3L387.0 646.4L384.9 644.3Z" fill="#111"/>
<path d="M395.2 639.2L397.3 641.3L395.2 643.4L393.1 641.3Z" fill="#111"/>
<path d="M403.3 631.8L405.4 633.9L403.3 636.0L401.2 633.9Z" fill="#111"/>
<path d="M415.5 626.5L417.6 628.6L415.5 630.7L413.4 628.6Z" fill="#111"/>
<polyline points="309.7,672.5 317.9,666.2 330.1,665.5 338.2,664.7 346.3,663.6 358.6,661.4 366.7,659.9 374.8,659.1 387.0,657.7 395.2,655.4 403.3,650.2 415.5,642.4 423.7,639.6 431.8,637.2 444.0,628.6 452.2,616.5" fill="none" stroke="#111" stroke-width="1.7" stroke-linejoin="round"/>
<path d="M317.9 664.1L320.0 666.2L317.9 668.3L315.8 666.2Z" fill="#111"/>
<path d="M330.1 663.4L332.2 665.5L330.1 667.6L328.0 665.5Z" fill="#111"/>
<path d="M338.2 662.6L340.3 664.7L338.2 666.8L336.1 664.7Z" fill="#111"/>
<path d="M346.3 661.5L348.4 663.6L346.3 665.7L344.2 663.6Z" fill="#111"/>
<path d="M358.6 659.3L360.7 661.4L358.6 663.5L356.4 661.4Z" fill="#111"/>
<path d="M366.7 657.8L368.8 659.9L366.7 662.0L364.6 659.9Z" fill="#111"/>
<path d="M374.8 657.0L376.9 659.1L374.8 661.2L372.7 659.1Z" fill="#111"/>
<path d="M387.0 655.6L389.1 657.7L387.0 659.8L384.9 657.7Z" fill="#111"/>
<path d="M395.2 653.3L397.3 655.4L395.2 657.5L393.1 655.4Z" fill="#111"/>
<path d="M403.3 648.1L405.4 650.2L403.3 652.3L401.2 650.2Z" fill="#111"/>
<path d="M415.5 640.3L417.6 642.4L415.5 644.5L413.4 642.4Z" fill="#111"/>
<path d="M423.7 637.5L425.8 639.6L423.7 641.7L421.6 639.6Z" fill="#111"/>
<path d="M431.8 635.1L433.9 637.2L431.8 639.3L429.7 637.2Z" fill="#111"/>
<path d="M444.0 626.5L446.1 628.6L444.0 630.7L441.9 628.6Z" fill="#111"/>
<path d="M452.2 614.4L454.3 616.5L452.2 618.6L450.1 616.5Z" fill="#111"/>
<polyline points="309.7,672.5 317.9,666.6 330.1,665.8 338.2,665.1 346.3,664.3 358.6,662.9 366.7,661.4 374.8,659.9 387.0,658.4 395.2,656.9 403.3,653.2 415.5,646.5 423.7,644.2 431.8,639.6 444.0,640.7 452.2,630.3" fill="none" stroke="#111" stroke-width="1.7" stroke-linejoin="round"/>
<path d="M317.9 664.5L320.0 666.6L317.9 668.7L315.8 666.6Z" fill="#111"/>
<path d="M330.1 663.7L332.2 665.8L330.1 667.9L328.0 665.8Z" fill="#111"/>
<path d="M338.2 663.0L340.3 665.1L338.2 667.2L336.1 665.1Z" fill="#111"/>
<path d="M346.3 662.2L348.4 664.3L346.3 666.4L344.2 664.3Z" fill="#111"/>
<path d="M358.6 660.8L360.7 662.9L358.6 665.0L356.4 662.9Z" fill="#111"/>
<path d="M366.7 659.3L368.8 661.4L366.7 663.5L364.6 661.4Z" fill="#111"/>
<path d="M374.8 657.8L376.9 659.9L374.8 662.0L372.7 659.9Z" fill="#111"/>
<path d="M387.0 656.3L389.1 658.4L387.0 660.5L384.9 658.4Z" fill="#111"/>
<path d="M395.2 654.8L397.3 656.9L395.2 659.0L393.1 656.9Z" fill="#111"/>
<path d="M403.3 651.1L405.4 653.2L403.3 655.3L401.2 653.2Z" fill="#111"/>
<path d="M415.5 644.4L417.6 646.5L415.5 648.6L413.4 646.5Z" fill="#111"/>
<path d="M423.7 642.1L425.8 644.2L423.7 646.3L421.6 644.2Z" fill="#111"/>
<path d="M431.8 637.5L433.9 639.6L431.8 641.7L429.7 639.6Z" fill="#111"/>
<path d="M444.0 638.6L446.1 640.7L444.0 642.8L441.9 640.7Z" fill="#111"/>
<path d="M452.2 628.2L454.3 630.3L452.2 632.4L450.1 630.3Z" fill="#111"/>
<polyline points="309.7,672.5 317.9,666.9 330.1,666.2 338.2,665.8 346.3,665.5 358.6,665.5 366.7,665.8 374.8,666.2 387.0,665.8 395.2,665.5 403.3,665.1 415.5,663.2 423.7,659.7 431.8,658.0 444.0,645.2 452.2,645.2" fill="none" stroke="#111" stroke-width="1.7" stroke-linejoin="round"/>
<path d="M317.9 664.8L320.0 666.9L317.9 669.0L315.8 666.9Z" fill="#111"/>
<path d="M330.1 664.1L332.2 666.2L330.1 668.3L328.0 666.2Z" fill="#111"/>
<path d="M338.2 663.7L340.3 665.8L338.2 667.9L336.1 665.8Z" fill="#111"/>
<path d="M346.3 663.4L348.4 665.5L346.3 667.6L344.2 665.5Z" fill="#111"/>
<path d="M358.6 663.4L360.7 665.5L358.6 667.6L356.4 665.5Z" fill="#111"/>
<path d="M366.7 663.7L368.8 665.8L366.7 667.9L364.6 665.8Z" fill="#111"/>
<path d="M374.8 664.1L376.9 666.2L374.8 668.3L372.7 666.2Z" fill="#111"/>
<path d="M387.0 663.7L389.1 665.8L387.0 667.9L384.9 665.8Z" fill="#111"/>
<path d="M395.2 663.4L397.3 665.5L395.2 667.6L393.1 665.5Z" fill="#111"/>
<path d="M403.3 663.0L405.4 665.1L403.3 667.2L401.2 665.1Z" fill="#111"/>
<path d="M415.5 661.1L417.6 663.2L415.5 665.3L413.4 663.2Z" fill="#111"/>
<path d="M423.7 657.6L425.8 659.7L423.7 661.8L421.6 659.7Z" fill="#111"/>
<path d="M431.8 655.9L433.9 658.0L431.8 660.1L429.7 658.0Z" fill="#111"/>
<path d="M444.0 643.1L446.1 645.2L444.0 647.3L441.9 645.2Z" fill="#111"/>
<path d="M452.2 643.1L454.3 645.2L452.2 647.3L450.1 645.2Z" fill="#111"/>
<polyline points="309.7,672.5 317.9,665.8 330.1,665.8 338.2,666.2 346.3,666.6 358.6,667.3 366.7,667.7 374.8,668.0 387.0,668.0 395.2,668.0 403.3,668.0 415.5,667.7 423.7,667.3 431.8,666.9 444.0,667.7 452.2,668.3" fill="none" stroke="#111" stroke-width="1.7" stroke-linejoin="round"/>
<path d="M317.9 663.7L320.0 665.8L317.9 667.9L315.8 665.8Z" fill="#111"/>
<path d="M330.1 663.7L332.2 665.8L330.1 667.9L328.0 665.8Z" fill="#111"/>
<path d="M338.2 664.1L340.3 666.2L338.2 668.3L336.1 666.2Z" fill="#111"/>
<path d="M346.3 664.5L348.4 666.6L346.3 668.7L344.2 666.6Z" fill="#111"/>
<path d="M358.6 665.2L360.7 667.3L358.6 669.4L356.4 667.3Z" fill="#111"/>
<path d="M366.7 665.6L368.8 667.7L366.7 669.8L364.6 667.7Z" fill="#111"/>
<path d="M374.8 665.9L376.9 668.0L374.8 670.1L372.7 668.0Z" fill="#111"/>
<path d="M387.0 665.9L389.1 668.0L387.0 670.1L384.9 668.0Z" fill="#111"/>
<path d="M395.2 665.9L397.3 668.0L395.2 670.1L393.1 668.0Z" fill="#111"/>
<path d="M403.3 665.9L405.4 668.0L403.3 670.1L401.2 668.0Z" fill="#111"/>
<path d="M415.5 665.6L417.6 667.7L415.5 669.8L413.4 667.7Z" fill="#111"/>
<path d="M423.7 665.2L425.8 667.3L423.7 669.4L421.6 667.3Z" fill="#111"/>
<path d="M431.8 664.8L433.9 666.9L431.8 669.0L429.7 666.9Z" fill="#111"/>
<path d="M444.0 665.6L446.1 667.7L444.0 669.8L441.9 667.7Z" fill="#111"/>
<path d="M452.2 666.2L454.3 668.3L452.2 670.4L450.1 668.3Z" fill="#111"/>
<polyline points="309.7,672.5 317.9,666.6 330.1,666.6 338.2,666.9 346.3,667.7 358.6,668.8 366.7,669.2 374.8,669.5 387.0,669.5 395.2,669.5 403.3,669.5 415.5,669.5 423.7,669.2 431.8,669.2 444.0,669.5 452.2,670.1" fill="none" stroke="#111" stroke-width="1.7" stroke-linejoin="round"/>
<path d="M317.9 664.5L320.0 666.6L317.9 668.7L315.8 666.6Z" fill="#111"/>
<path d="M330.1 664.5L332.2 666.6L330.1 668.7L328.0 666.6Z" fill="#111"/>
<path d="M338.2 664.8L340.3 666.9L338.2 669.0L336.1 666.9Z" fill="#111"/>
<path d="M346.3 665.6L348.4 667.7L346.3 669.8L344.2 667.7Z" fill="#111"/>
<path d="M358.6 666.7L360.7 668.8L358.6 670.9L356.4 668.8Z" fill="#111"/>
<path d="M366.7 667.1L368.8 669.2L366.7 671.3L364.6 669.2Z" fill="#111"/>
<path d="M374.8 667.4L376.9 669.5L374.8 671.6L372.7 669.5Z" fill="#111"/>
<path d="M387.0 667.4L389.1 669.5L387.0 671.6L384.9 669.5Z" fill="#111"/>
<path d="M395.2 667.4L397.3 669.5L395.2 671.6L393.1 669.5Z" fill="#111"/>
<path d="M403.3 667.4L405.4 669.5L403.3 671.6L401.2 669.5Z" fill="#111"/>
<path d="M415.5 667.4L417.6 669.5L415.5 671.6L413.4 669.5Z" fill="#111"/>
<path d="M423.7 667.1L425.8 669.2L423.7 671.3L421.6 669.2Z" fill="#111"/>
<path d="M431.8 667.1L433.9 669.2L431.8 671.3L429.7 669.2Z" fill="#111"/>
<path d="M444.0 667.4L446.1 669.5L444.0 671.6L441.9 669.5Z" fill="#111"/>
<path d="M452.2 668.0L454.3 670.1L452.2 672.2L450.1 670.1Z" fill="#111"/>
<polyline points="309.7,672.5 317.9,666.2 330.1,666.6 338.2,667.3 346.3,668.4 358.6,669.9 366.7,670.3 374.8,670.6 387.0,671.0 395.2,671.0 403.3,671.0 415.5,671.0 423.7,671.0 431.8,671.0 444.0,671.4 452.2,671.8" fill="none" stroke="#111" stroke-width="1.7" stroke-linejoin="round"/>
<path d="M317.9 664.1L320.0 666.2L317.9 668.3L315.8 666.2Z" fill="#111"/>
<path d="M330.1 664.5L332.2 666.6L330.1 668.7L328.0 666.6Z" fill="#111"/>
<path d="M338.2 665.2L340.3 667.3L338.2 669.4L336.1 667.3Z" fill="#111"/>
<path d="M346.3 666.3L348.4 668.4L346.3 670.5L344.2 668.4Z" fill="#111"/>
<path d="M358.6 667.8L360.7 669.9L358.6 672.0L356.4 669.9Z" fill="#111"/>
<path d="M366.7 668.2L368.8 670.3L366.7 672.4L364.6 670.3Z" fill="#111"/>
<path d="M374.8 668.5L376.9 670.6L374.8 672.7L372.7 670.6Z" fill="#111"/>
<path d="M387.0 668.9L389.1 671.0L387.0 673.1L384.9 671.0Z" fill="#111"/>
<path d="M395.2 668.9L397.3 671.0L395.2 673.1L393.1 671.0Z" fill="#111"/>
<path d="M403.3 668.9L405.4 671.0L403.3 673.1L401.2 671.0Z" fill="#111"/>
<path d="M415.5 668.9L417.6 671.0L415.5 673.1L413.4 671.0Z" fill="#111"/>
<path d="M423.7 668.9L425.8 671.0L423.7 673.1L421.6 671.0Z" fill="#111"/>
<path d="M431.8 668.9L433.9 671.0L431.8 673.1L429.7 671.0Z" fill="#111"/>
<path d="M444.0 669.3L446.1 671.4L444.0 673.5L441.9 671.4Z" fill="#111"/>
<path d="M452.2 669.7L454.3 671.8L452.2 673.9L450.1 671.8Z" fill="#111"/>
</svg></body></html>
